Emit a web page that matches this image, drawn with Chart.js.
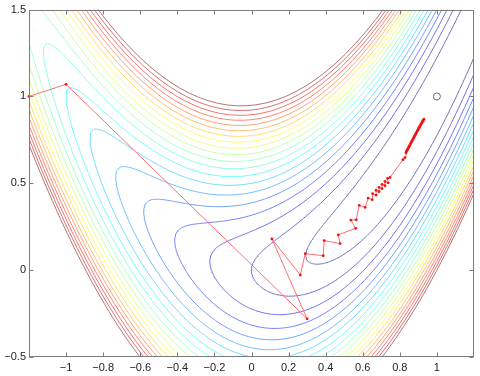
<!DOCTYPE html>
<html>
<head>
<meta charset="utf-8">
<script src="https://cdn.jsdelivr.net/npm/chart.js@4.4.1/dist/chart.umd.min.js"></script>
<style>
  html, body { margin: 0; padding: 0; background: #fff; }
  canvas { display: block; }
</style>
</head>
<body>
<canvas id="myChart" width="480" height="376"></canvas>
<script>

// contour levels of f(x,y) = (1-x)^2 + 10*(y-x^2)^2
const NIVELES = [0.5, 1, 1.5, 2, 2.5, 3, 3.5, 4, 4.5, 5, 5.5, 6, 6.5, 7, 7.5, 8, 8.5, 9, 9.5, 10]
const PESO_VALLE = 10

// descent path
const pasoX = [-1.2, -1.0, 0.30, 0.11, 0.263, 0.29, 0.387, 0.392, 0.478, 0.468, 0.562, 0.536, 0.565,
    0.581, 0.613, 0.629, 0.651, 0.653, 0.672, 0.672, 0.688, 0.688, 0.704, 0.704, 0.720, 0.720,
    0.737, 0.734, 0.747,
    0.817, 0.828, 0.833, 0.836, 0.839, 0.842, 0.845, 0.848, 0.851, 0.854, 0.857, 0.860, 0.863,
    0.866, 0.869, 0.872, 0.875, 0.878, 0.881, 0.884, 0.887, 0.890, 0.893, 0.896, 0.899, 0.902,
    0.905, 0.908, 0.911, 0.914, 0.917, 0.920, 0.923, 0.926, 0.930]
const pasoY = [1.0, 1.07, -0.28, 0.18, -0.028, 0.095, 0.083, 0.170, 0.153, 0.203, 0.241, 0.288, 0.290,
    0.373, 0.361, 0.415, 0.406, 0.440, 0.432, 0.460, 0.452, 0.477, 0.469, 0.494, 0.486, 0.511,
    0.503, 0.528, 0.534,
    0.636, 0.648, 0.676, 0.684, 0.690, 0.696, 0.700, 0.708, 0.714, 0.720, 0.726, 0.733, 0.738,
    0.745, 0.750, 0.757, 0.762, 0.769, 0.774, 0.781, 0.786, 0.793, 0.798, 0.805, 0.810, 0.817,
    0.822, 0.829, 0.834, 0.841, 0.846, 0.852, 0.857, 0.863, 0.869]

// minimum marker
const minimoX = [1]
const minimoY = [1]

const ticksX = [-1, -0.8, -0.6, -0.4, -0.2, 0, 0.2, 0.4, 0.6, 0.8, 1]
const ticksY = [-0.5, 0, 0.5, 1, 1.5]


const clamp = v => Math.max(0, Math.min(1, v))

const jet = (t, blanco) => {
    const r = clamp(1.5 - Math.abs(4 * t - 3))
    const g = clamp(1.5 - Math.abs(4 * t - 2))
    const b = clamp(1.5 - Math.abs(4 * t - 1))
    const mezcla = c => Math.round(255 * (c + (1 - c) * blanco))
    return `rgb(${mezcla(r)},${mezcla(g)},${mezcla(b)})`
}

// level set of the function, walked around its parameter
const curvaNivel = (c) => {
    let puntos = []
    for (let i = 0; i <= 360; i++) {
        const t = i * Math.PI / 180
        const x = 1 - Math.sqrt(c) * Math.cos(t)
        puntos.push({ x: x, y: x * x + Math.sqrt(c / PESO_VALLE) * Math.sin(t) })
    }
    return puntos
}

const etiqueta = v => String(Number(v.toFixed(2))).replace('-', '\u2212')

const minN = NIVELES[0], maxN = NIVELES[NIVELES.length - 1]

let datasets = [
    {
        data: minimoX.map((x, i) => ({ x: x, y: minimoY[i] })),
        showLine: false,
        pointRadius: 3.5,
        pointBorderWidth: 1,
        pointBorderColor: '#6a6a6a',
        pointBackgroundColor: 'rgba(0,0,0,0)',
        clip: false
    },
    {
        data: pasoX.map((x, i) => ({ x: x, y: pasoY[i] })),
        showLine: true,
        borderColor: 'rgb(255,110,110)',
        borderWidth: 1,
        pointRadius: 1.4,
        pointBorderWidth: 0,
        pointBackgroundColor: 'rgb(240,20,20)',
        tension: 0,
        clip: false
    }
]

NIVELES.forEach(c => {
    datasets.push({
        data: curvaNivel(c),
        showLine: true,
        borderColor: jet((c - minN) / (maxN - minN), 0.45),
        borderWidth: 1,
        pointRadius: 0,
        tension: 0,
        clip: 0
    })
})

const marco = {
    id: 'marco',
    afterDraw(chart) {
        const { ctx, chartArea: a, scales: { x, y } } = chart
        const l = Math.round(a.left) + 0.5, r = Math.round(a.right) - 0.5
        const t = Math.round(a.top) + 0.5, b = Math.round(a.bottom) - 0.5
        ctx.save()
        ctx.strokeStyle = '#7d7d7d'
        ctx.lineWidth = 1
        ctx.strokeRect(l, t, r - l, b - t)
        ctx.beginPath()
        ticksX.forEach(v => {
            const px = Math.round(x.getPixelForValue(v)) + 0.5
            ctx.moveTo(px, b); ctx.lineTo(px, b - 4)
            ctx.moveTo(px, t); ctx.lineTo(px, t + 4)
        })
        ticksY.forEach(v => {
            const py = Math.round(y.getPixelForValue(v)) + 0.5
            ctx.moveTo(l, py); ctx.lineTo(l + 4, py)
            ctx.moveTo(r, py); ctx.lineTo(r - 4, py)
        })
        ctx.stroke()
        ctx.restore()
    }
}

const fuente = { family: "'Liberation Sans', Arial, sans-serif", size: 11 }

var ctx = document.getElementById('myChart')
var myChart = new Chart(ctx, {
    type: 'scatter',
    data: { datasets: datasets },
    options: {
        responsive: false,
        animation: false,
        devicePixelRatio: 1,
        layout: { padding: { top: 5, right: 6, left: 0, bottom: 0 } },
        plugins: { legend: { display: false }, tooltip: { enabled: false } },
        scales: {
            x: {
                type: 'linear',
                min: -1.2,
                max: 1.2,
                afterBuildTicks: s => { s.ticks = ticksX.map(v => ({ value: v })) },
                afterFit: s => { s.height = 19 },
                grid: { display: false, drawTicks: false },
                border: { display: false },
                ticks: { callback: v => etiqueta(v), font: fuente, color: '#222', padding: 4, maxRotation: 0, autoSkip: false }
            },
            y: {
                type: 'linear',
                min: -0.5,
                max: 1.5,
                afterBuildTicks: s => { s.ticks = ticksY.map(v => ({ value: v })) },
                afterFit: s => { s.width = 29 },
                grid: { display: false, drawTicks: false },
                border: { display: false },
                ticks: { callback: v => etiqueta(v), font: fuente, color: '#222', padding: 3, autoSkip: false }
            }
        }
    },
    plugins: [marco]
})

</script>
</body>
</html>
